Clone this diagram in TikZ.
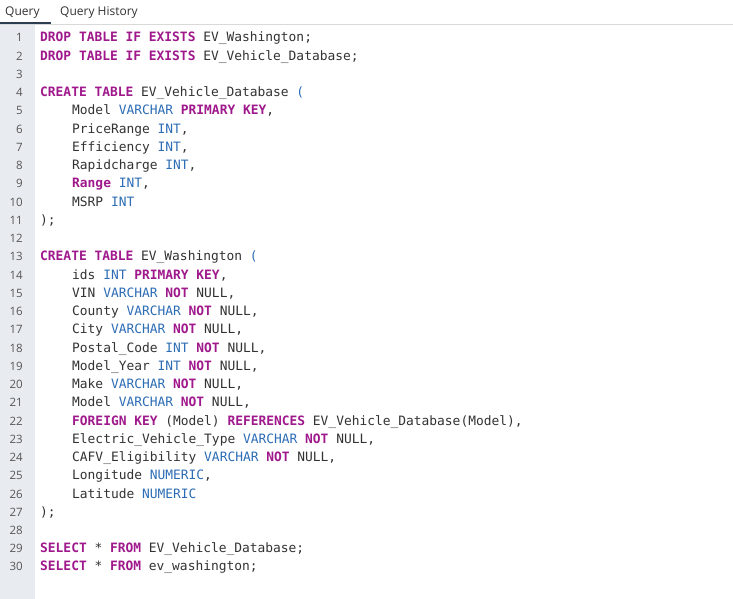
\documentclass[tikz,border=0pt]{standalone}
\usepackage{fontspec}
\setmainfont{Open Sans}
\setmonofont{DejaVu Sans Mono}
\definecolor{kwc}{HTML}{A0198C}
\definecolor{tyc}{HTML}{2D6DB5}
\definecolor{idc}{HTML}{333333}
\definecolor{gut}{HTML}{E8ECF0}
\definecolor{numc}{HTML}{555555}
\newcommand{\kw}[1]{\textcolor{kwc}{\bfseries #1}}
\newcommand{\ty}[1]{\textcolor{tyc}{#1}}
\begin{document}
\begin{tikzpicture}[x=1pt,y=-1pt,
  code/.style={anchor=base west,inner sep=0pt,font=\fontsize{12.9}{14}\ttfamily,text=idc},
  num/.style={anchor=base east,inner sep=0pt,font=\fontsize{11.5}{14}\selectfont,text=numc}]
\useasboundingbox (0,0) rectangle (733,599);
\fill[white] (0,0) rectangle (733,599);
\fill[gut] (0,25) rectangle (35,599);
\draw[gray!30] (0,24.5) -- (733,24.5);
\draw[line width=2pt,color={rgb,255:red,44;green,62;blue,80}] (0,23.5) -- (51,23.5);
\node[anchor=base west,inner sep=0pt,font=\fontsize{12}{14}\selectfont,text=idc] (t1) at (5,16) {Query};
\node[anchor=base west,inner sep=0pt,font=\fontsize{12}{14}\selectfont,text=idc] (t2) at (60,16) {Query History};
\foreach \i in {1,...,30}{\node[num] (n\i) at (23,{42+18.24*(\i-1)}) {\i};}
\def\L#1#2#3{\node[code] (l#1) at (#2,{42+18.24*(#1-1)}) {#3};}
\L{1}{40}{\kw{DROP TABLE IF EXISTS} EV\_Washington;}
\L{2}{40}{\kw{DROP TABLE IF EXISTS} EV\_Vehicle\_Database;}
\L{4}{40}{\kw{CREATE TABLE} EV\_Vehicle\_Database \ty{(}}
\L{5}{72}{Model \ty{VARCHAR} \kw{PRIMARY KEY},}
\L{6}{72}{PriceRange \ty{INT},}
\L{7}{72}{Efficiency \ty{INT},}
\L{8}{72}{Rapidcharge \ty{INT},}
\L{9}{72}{\kw{Range} \ty{INT},}
\L{10}{72}{MSRP \ty{INT}}
\L{11}{40}{);}
\L{13}{40}{\kw{CREATE TABLE} EV\_Washington \ty{(}}
\L{14}{72}{ids \ty{INT} \kw{PRIMARY KEY},}
\L{15}{72}{VIN \ty{VARCHAR} \kw{NOT} NULL,}
\L{16}{72}{County \ty{VARCHAR} \kw{NOT} NULL,}
\L{17}{72}{City \ty{VARCHAR} \kw{NOT} NULL,}
\L{18}{72}{Postal\_Code \ty{INT} \kw{NOT} NULL,}
\L{19}{72}{Model\_Year \ty{INT} \kw{NOT} NULL,}
\L{20}{72}{Make \ty{VARCHAR} \kw{NOT} NULL,}
\L{21}{72}{Model \ty{VARCHAR} \kw{NOT} NULL,}
\L{22}{72}{\kw{FOREIGN KEY} (Model) \kw{REFERENCES} EV\_Vehicle\_Database(Model),}
\L{23}{72}{Electric\_Vehicle\_Type \ty{VARCHAR} \kw{NOT} NULL,}
\L{24}{72}{CAFV\_Eligibility \ty{VARCHAR} \kw{NOT} NULL,}
\L{25}{72}{Longitude \ty{NUMERIC},}
\L{26}{72}{Latitude \ty{NUMERIC}}
\L{27}{40}{);}
\L{29}{40}{\kw{SELECT} * \kw{FROM} EV\_Vehicle\_Database;}
\L{30}{40}{\kw{SELECT} * \kw{FROM} ev\_washington;}
\end{tikzpicture}
\end{document}
